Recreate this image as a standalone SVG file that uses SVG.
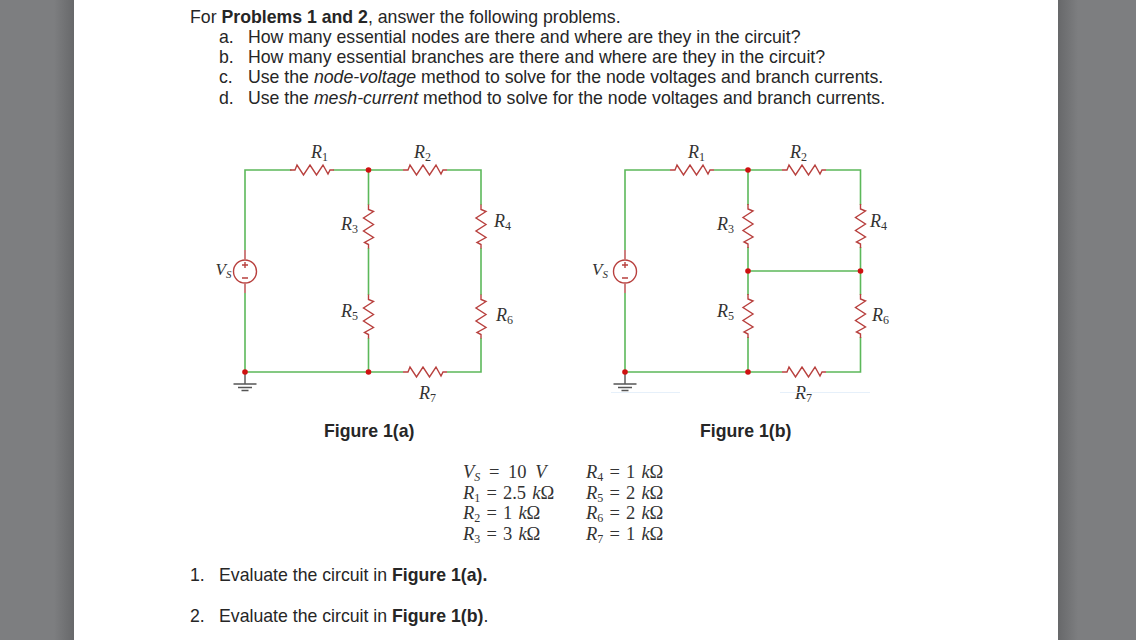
<svg xmlns="http://www.w3.org/2000/svg" width="1136" height="640" viewBox="0 0 1136 640">
<style>
.t{font:17.7px "Liberation Sans",Arial,sans-serif;fill:#262626}
.b{font-weight:700}
.m{font:italic 18px "Liberation Serif","Times New Roman",serif;fill:#333}
.e{font:18.5px "Liberation Serif","Times New Roman",serif;fill:#333;word-spacing:1.500px}
.s{font-size:12px;font-style:normal}
.i{font-style:italic}
.w{fill:none;stroke:#5cb85a;stroke-width:1.6}
.r{fill:none;stroke:#b8403e;stroke-width:1.4}
.l{fill:none;stroke:#c87070;stroke-width:1.8}
.g{fill:none;stroke:#555;stroke-width:1.4}
.d{fill:#cf1111}
.f{font:700 17.7px "Liberation Sans",Arial,sans-serif;fill:#262626}
</style>
<defs>
<linearGradient id="sl" x1="0" x2="1" y1="0" y2="0"><stop offset="0" stop-color="#7d7e80"/><stop offset="1" stop-color="#67686a"/></linearGradient>
<linearGradient id="sr" x1="1" x2="0" y1="0" y2="0"><stop offset="0" stop-color="#7d7e80"/><stop offset="1" stop-color="#67686a"/></linearGradient>
<path id="res" class="r" d="M0 0H5L7-5L13.500 5L20-5L26.500 5L33-5L38 4L40 0H44"/>
<g id="src"><circle r="11.500" class="r" fill="#fff"/><path class="l" d="M0-21.500V-11.500M0 11.500V21.500"/><path class="r" d="M-3-6.500H3M0-9.500V-3.500M-3 6.500H3"/></g>
<g id="gnd"><path class="g" d="M0 0V12M-11.500 12H11.500M-7 15.500H7M-3.500 18.500H3.500"/></g>
</defs>
<rect width="1136" height="640" fill="#7d7e80"/>
<rect x="54" width="20" height="640" fill="url(#sl)"/>
<rect x="1058" width="20" height="640" fill="url(#sr)"/>
<rect x="74" width="984" height="640" fill="#fff"/>

<g id="problem-text">
<text class="t" x="190" y="22.500">For <tspan class="b">Problems 1 and 2</tspan>, answer the following problems.</text>
<text class="t" x="219" y="42.500">a.</text><text class="t" x="248" y="42.500">How many essential nodes are there and where are they in the circuit?</text>
<text class="t" x="219" y="63">b.</text><text class="t" x="248" y="63">How many essential branches are there and where are they in the circuit?</text>
<text class="t" x="219" y="83">c.</text><text class="t" x="248" y="83">Use the <tspan class="i">node-voltage</tspan> method to solve for the node voltages and branch currents.</text>
<text class="t" x="219" y="103.500">d.</text><text class="t" x="248" y="103.500">Use the <tspan class="i">mesh-current</tspan> method to solve for the node voltages and branch currents.</text>
<text class="t" x="190" y="581">1.</text><text class="t" x="219" y="581">Evaluate the circuit in <tspan class="b">Figure 1(a).</tspan></text>
<text class="t" x="190" y="621.500">2.</text><text class="t" x="219" y="621.500">Evaluate the circuit in <tspan class="b">Figure 1(b)</tspan>.</text>
</g>

<g id="connectors">
<path class="w" d="M245 250V170H291.500M333.500 170H403M447 170H481V205M481 248V295M481 338V372H447M403 372H245V293M368.500 170V205M368.500 248V295M368.500 338V372"/>
<path class="w" d="M625 250V170H670M714 170H782M826 170H860.500V205M860.500 247V295M860.500 337V372H826M782 372H625V293M748 170V205M748 247V295M748 337V372M748 271H860.500"/>
</g>

<g id="fig-a">
<g id="a-R1"><use href="#res" x="290" y="170"/><text class="m" x="311" y="158">R<tspan class="s" dy="3">1</tspan></text></g>
<g id="a-R2"><use href="#res" x="403" y="170"/><text class="m" x="414" y="158">R<tspan class="s" dy="3">2</tspan></text></g>
<g id="a-R3"><use href="#res" transform="translate(368.500 204.500) rotate(90)"/><text class="m" x="341" y="230">R<tspan class="s" dy="3">3</tspan></text></g>
<g id="a-R4"><use href="#res" transform="translate(481 204.500) rotate(90)"/><text class="m" x="494" y="227">R<tspan class="s" dy="3">4</tspan></text></g>
<g id="a-R5"><use href="#res" transform="translate(368.500 294.500) rotate(90)"/><text class="m" x="341" y="317">R<tspan class="s" dy="3">5</tspan></text></g>
<g id="a-R6"><use href="#res" transform="translate(481 294.500) rotate(90)"/><text class="m" x="496" y="321">R<tspan class="s" dy="3">6</tspan></text></g>
<g id="a-R7"><use href="#res" x="403" y="372"/><text class="m" x="419" y="399">R<tspan class="s" dy="3">7</tspan></text></g>
<g id="a-Vs"><use href="#src" x="245" y="271.500"/><text class="m" x="215.500" y="275" style="font-size:17px">V<tspan class="s i" dy="3" style="font-size:11px">S</tspan></text></g>
<g id="a-gnd"><use href="#gnd" x="245" y="372"/></g>
<g id="a-nodes"><circle class="d" cx="368.500" cy="170" r="2.800"/><circle class="d" cx="245" cy="372" r="2.800"/><circle class="d" cx="368.500" cy="372" r="2.800"/></g>
<text class="f" x="324" y="436.500">Figure 1(a)</text>
</g>

<g id="fig-b">
<g id="b-R1"><use href="#res" x="670" y="170"/><text class="m" x="688" y="158">R<tspan class="s" dy="3">1</tspan></text></g>
<g id="b-R2"><use href="#res" x="782" y="170"/><text class="m" x="790" y="158">R<tspan class="s" dy="3">2</tspan></text></g>
<g id="b-R3"><use href="#res" transform="translate(748 204) rotate(90)"/><text class="m" x="717" y="230">R<tspan class="s" dy="3">3</tspan></text></g>
<g id="b-R4"><use href="#res" transform="translate(860.500 204) rotate(90)"/><text class="m" x="870" y="227">R<tspan class="s" dy="3">4</tspan></text></g>
<g id="b-R5"><use href="#res" transform="translate(748 294) rotate(90)"/><text class="m" x="717" y="317">R<tspan class="s" dy="3">5</tspan></text></g>
<g id="b-R6"><use href="#res" transform="translate(860.500 294) rotate(90)"/><text class="m" x="872" y="321">R<tspan class="s" dy="3">6</tspan></text></g>
<g id="b-R7"><use href="#res" x="782" y="372"/><text class="m" x="795" y="399">R<tspan class="s" dy="3">7</tspan></text></g>
<g id="b-Vs"><use href="#src" x="625" y="271.500"/><text class="m" x="592" y="275" style="font-size:17px">V<tspan class="s i" dy="3" style="font-size:11px">S</tspan></text></g>
<g id="b-gnd"><use href="#gnd" x="625" y="372"/></g>
<g id="b-nodes"><circle class="d" cx="748" cy="170" r="2.800"/><circle class="d" cx="748" cy="271" r="2.800"/><circle class="d" cx="860.500" cy="271" r="2.800"/><circle class="d" cx="625" cy="372" r="2.800"/><circle class="d" cx="748" cy="372" r="2.800"/></g>
<path d="M611 392.500H680M780 392.500H870" stroke="#e6f0fa" fill="none"/>
<text class="f" x="700" y="436.500">Figure 1(b)</text>
</g>

<g id="values">
<text class="e" x="463" y="478" style="word-spacing:4px"><tspan class="i">V</tspan><tspan class="s i" dy="3">S</tspan><tspan dy="-3"> = 10 </tspan><tspan class="i">V</tspan></text>
<text class="e" x="463" y="499"><tspan class="i">R</tspan><tspan class="s" dy="3">1</tspan><tspan dy="-3"> = 2.5 </tspan><tspan class="i">k</tspan>Ω</text>
<text class="e" x="463" y="519"><tspan class="i">R</tspan><tspan class="s" dy="3">2</tspan><tspan dy="-3"> = 1 </tspan><tspan class="i">k</tspan>Ω</text>
<text class="e" x="463" y="540"><tspan class="i">R</tspan><tspan class="s" dy="3">3</tspan><tspan dy="-3"> = 3 </tspan><tspan class="i">k</tspan>Ω</text>
<text class="e" x="586" y="478"><tspan class="i">R</tspan><tspan class="s" dy="3">4</tspan><tspan dy="-3"> = 1 </tspan><tspan class="i">k</tspan>Ω</text>
<text class="e" x="586" y="499"><tspan class="i">R</tspan><tspan class="s" dy="3">5</tspan><tspan dy="-3"> = 2 </tspan><tspan class="i">k</tspan>Ω</text>
<text class="e" x="586" y="519"><tspan class="i">R</tspan><tspan class="s" dy="3">6</tspan><tspan dy="-3"> = 2 </tspan><tspan class="i">k</tspan>Ω</text>
<text class="e" x="586" y="540"><tspan class="i">R</tspan><tspan class="s" dy="3">7</tspan><tspan dy="-3"> = 1 </tspan><tspan class="i">k</tspan>Ω</text>
</g>
</svg>
